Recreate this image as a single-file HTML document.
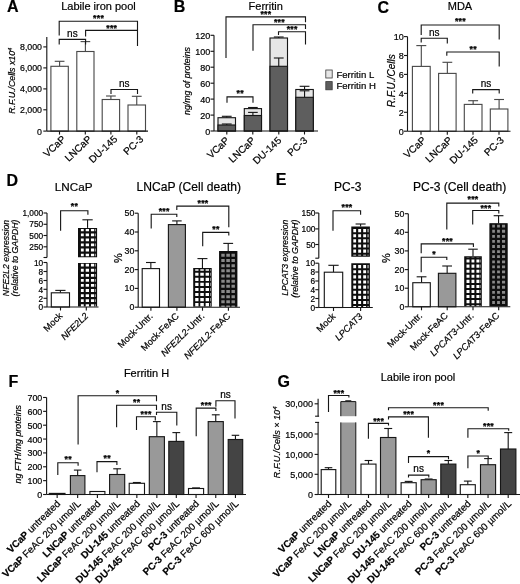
<!DOCTYPE html>
<html><head><meta charset="utf-8"><title>Figure</title>
<style>
html,body{margin:0;padding:0;background:#fff;}
svg{display:block;font-family:"Liberation Sans",sans-serif;}
text{stroke:#000;stroke-width:0.2px;}
text.st{stroke:#000;stroke-width:0.25px;font-weight:bold;letter-spacing:0.3px;}
</style></head><body>
<svg width="520" height="584" viewBox="0 0 520 584">
<rect width="520" height="584" fill="#fff"/>
<defs></defs>
<text x="7.00" y="12.00" font-size="16" text-anchor="start" font-weight="bold" font-style="normal" fill="#000">A</text>
<text x="98.50" y="9.70" font-size="11" text-anchor="middle" font-weight="normal" font-style="normal" fill="#000">Labile iron pool</text>
<path d="M46.80 37.00L46.80 131.10" stroke="#161616" stroke-width="1.12" fill="none"/>
<path d="M43.30 131.10L46.80 131.10" stroke="#161616" stroke-width="1.12" fill="none"/>
<text x="42.00" y="134.57" font-size="8.8" text-anchor="end" font-weight="normal" font-style="normal" fill="#000">0</text>
<path d="M43.30 109.80L46.80 109.80" stroke="#161616" stroke-width="1.12" fill="none"/>
<text x="42.00" y="113.27" font-size="8.8" text-anchor="end" font-weight="normal" font-style="normal" fill="#000">2,000</text>
<path d="M43.30 88.90L46.80 88.90" stroke="#161616" stroke-width="1.12" fill="none"/>
<text x="42.00" y="92.37" font-size="8.8" text-anchor="end" font-weight="normal" font-style="normal" fill="#000">4,000</text>
<path d="M43.30 67.90L46.80 67.90" stroke="#161616" stroke-width="1.12" fill="none"/>
<text x="42.00" y="71.37" font-size="8.8" text-anchor="end" font-weight="normal" font-style="normal" fill="#000">6,000</text>
<path d="M43.30 46.90L46.80 46.90" stroke="#161616" stroke-width="1.12" fill="none"/>
<text x="42.00" y="50.37" font-size="8.8" text-anchor="end" font-weight="normal" font-style="normal" fill="#000">8,000</text>
<path d="M59.60 61.30L59.60 66.30" stroke="#484848" stroke-width="1.12" fill="none"/>
<path d="M54.73 61.30L64.47 61.30" stroke="#484848" stroke-width="1.12" fill="none"/>
<rect x="50.90" y="66.30" width="17.40" height="64.80" fill="#fff" stroke="#484848" stroke-width="1.12"/>
<path d="M85.40 41.60L85.40 51.50" stroke="#484848" stroke-width="1.12" fill="none"/>
<path d="M80.58 41.60L90.22 41.60" stroke="#484848" stroke-width="1.12" fill="none"/>
<rect x="76.80" y="51.50" width="17.20" height="79.60" fill="#fff" stroke="#484848" stroke-width="1.12"/>
<path d="M110.90 96.00L110.90 99.50" stroke="#484848" stroke-width="1.12" fill="none"/>
<path d="M106.03 96.00L115.77 96.00" stroke="#484848" stroke-width="1.12" fill="none"/>
<rect x="102.20" y="99.50" width="17.40" height="31.60" fill="#fff" stroke="#484848" stroke-width="1.12"/>
<path d="M136.75 96.30L136.75 105.00" stroke="#484848" stroke-width="1.12" fill="none"/>
<path d="M131.85 96.30L141.65 96.30" stroke="#484848" stroke-width="1.12" fill="none"/>
<rect x="128.00" y="105.00" width="17.50" height="26.10" fill="#fff" stroke="#484848" stroke-width="1.12"/>
<path d="M59.20 35.60L59.20 21.20L137.50 21.20L137.50 46.00" stroke="#161616" stroke-width="1.12" fill="none"/>
<text x="98.55" y="20.55" font-size="8.7" text-anchor="middle" font-weight="normal" font-style="normal" fill="#000" class="st">***</text>
<path d="M59.20 44.60L59.20 39.40L85.60 39.40L85.60 44.60" stroke="#161616" stroke-width="1.12" fill="none"/>
<text x="72.40" y="36.60" font-size="10" text-anchor="middle" font-weight="normal" font-style="normal" fill="#000">ns</text>
<path d="M85.60 36.60L85.60 30.40L137.50 30.40" stroke="#161616" stroke-width="1.12" fill="none"/>
<text x="111.75" y="31.45" font-size="8.7" text-anchor="middle" font-weight="normal" font-style="normal" fill="#000" class="st">***</text>
<path d="M111.00 94.00L111.00 89.50L137.50 89.50L137.50 94.00" stroke="#161616" stroke-width="1.12" fill="none"/>
<text x="124.25" y="86.70" font-size="10" text-anchor="middle" font-weight="normal" font-style="normal" fill="#000">ns</text>
<text x="66.30" y="140.00" font-size="10" text-anchor="end" font-weight="normal" font-style="normal" fill="#000" transform="rotate(-43 66.30 140.00)">VCaP</text>
<text x="92.30" y="140.00" font-size="10" text-anchor="end" font-weight="normal" font-style="normal" fill="#000" transform="rotate(-43 92.30 140.00)">LNCaP</text>
<text x="118.00" y="140.00" font-size="10" text-anchor="end" font-weight="normal" font-style="normal" fill="#000" transform="rotate(-43 118.00 140.00)">DU-145</text>
<text x="144.00" y="140.00" font-size="10" text-anchor="end" font-weight="normal" font-style="normal" fill="#000" transform="rotate(-43 144.00 140.00)">PC-3</text>
<text x="14.70" y="80.70" font-size="8.8" text-anchor="middle" font-weight="normal" font-style="italic" fill="#000" transform="rotate(-90 14.70 80.70)">R.F.U./Cells x10<tspan font-size="6" dy="-3">4</tspan></text>
<text x="173.80" y="12.00" font-size="16" text-anchor="start" font-weight="bold" font-style="normal" fill="#000">B</text>
<text x="265.70" y="9.80" font-size="11" text-anchor="middle" font-weight="normal" font-style="normal" fill="#000">Ferritin</text>
<path d="M214.00 35.30L214.00 131.00" stroke="#161616" stroke-width="1.12" fill="none"/>
<path d="M210.50 131.00L214.00 131.00" stroke="#161616" stroke-width="1.12" fill="none"/>
<text x="210.20" y="134.54" font-size="9" text-anchor="end" font-weight="normal" font-style="normal" fill="#000">0</text>
<path d="M210.50 115.10L214.00 115.10" stroke="#161616" stroke-width="1.12" fill="none"/>
<text x="210.20" y="118.64" font-size="9" text-anchor="end" font-weight="normal" font-style="normal" fill="#000">20</text>
<path d="M210.50 99.10L214.00 99.10" stroke="#161616" stroke-width="1.12" fill="none"/>
<text x="210.20" y="102.64" font-size="9" text-anchor="end" font-weight="normal" font-style="normal" fill="#000">40</text>
<path d="M210.50 83.20L214.00 83.20" stroke="#161616" stroke-width="1.12" fill="none"/>
<text x="210.20" y="86.74" font-size="9" text-anchor="end" font-weight="normal" font-style="normal" fill="#000">60</text>
<path d="M210.50 67.20L214.00 67.20" stroke="#161616" stroke-width="1.12" fill="none"/>
<text x="210.20" y="70.74" font-size="9" text-anchor="end" font-weight="normal" font-style="normal" fill="#000">80</text>
<path d="M210.50 51.30L214.00 51.30" stroke="#161616" stroke-width="1.12" fill="none"/>
<text x="210.20" y="54.84" font-size="9" text-anchor="end" font-weight="normal" font-style="normal" fill="#000">100</text>
<path d="M210.50 35.30L214.00 35.30" stroke="#161616" stroke-width="1.12" fill="none"/>
<text x="210.20" y="38.84" font-size="9" text-anchor="end" font-weight="normal" font-style="normal" fill="#000">120</text>
<path d="M226.75 116.30L226.75 117.70" stroke="#161616" stroke-width="1.12" fill="none"/>
<path d="M221.85 116.30L231.65 116.30" stroke="#161616" stroke-width="1.12" fill="none"/>
<rect x="218.00" y="117.70" width="17.50" height="13.30" fill="#e6e6e6" stroke="#161616" stroke-width="1.12"/>
<rect x="218.00" y="125.00" width="17.50" height="6.00" fill="#5e5e5e" stroke="#161616" stroke-width="1.12"/>
<path d="M226.75 124.00L226.75 125.00" stroke="#161616" stroke-width="1.12" fill="none"/>
<path d="M221.85 124.00L231.65 124.00" stroke="#161616" stroke-width="1.12" fill="none"/>
<path d="M252.90 107.50L252.90 108.60" stroke="#161616" stroke-width="1.12" fill="none"/>
<path d="M248.08 107.50L257.72 107.50" stroke="#161616" stroke-width="1.12" fill="none"/>
<rect x="244.30" y="108.60" width="17.20" height="22.40" fill="#e6e6e6" stroke="#161616" stroke-width="1.12"/>
<rect x="244.30" y="115.50" width="17.20" height="15.50" fill="#5e5e5e" stroke="#161616" stroke-width="1.12"/>
<path d="M252.90 112.40L252.90 115.50" stroke="#161616" stroke-width="1.12" fill="none"/>
<path d="M248.08 112.40L257.72 112.40" stroke="#161616" stroke-width="1.12" fill="none"/>
<path d="M278.75 37.00L278.75 38.00" stroke="#161616" stroke-width="1.12" fill="none"/>
<path d="M273.85 37.00L283.65 37.00" stroke="#161616" stroke-width="1.12" fill="none"/>
<rect x="270.00" y="38.00" width="17.50" height="93.00" fill="#e6e6e6" stroke="#161616" stroke-width="1.12"/>
<rect x="270.00" y="66.30" width="17.50" height="64.70" fill="#5e5e5e" stroke="#161616" stroke-width="1.12"/>
<path d="M278.75 58.00L278.75 66.30" stroke="#161616" stroke-width="1.12" fill="none"/>
<path d="M273.85 58.00L283.65 58.00" stroke="#161616" stroke-width="1.12" fill="none"/>
<path d="M304.55 86.30L304.55 89.50" stroke="#161616" stroke-width="1.12" fill="none"/>
<path d="M299.65 86.30L309.45 86.30" stroke="#161616" stroke-width="1.12" fill="none"/>
<rect x="295.80" y="89.50" width="17.50" height="41.50" fill="#e6e6e6" stroke="#161616" stroke-width="1.12"/>
<rect x="295.80" y="97.30" width="17.50" height="33.70" fill="#5e5e5e" stroke="#161616" stroke-width="1.12"/>
<path d="M304.55 90.80L304.55 97.30" stroke="#161616" stroke-width="1.12" fill="none"/>
<path d="M299.65 90.80L309.45 90.80" stroke="#161616" stroke-width="1.12" fill="none"/>
<path d="M226.00 58.00L226.00 16.90L305.50 16.90L305.50 22.20" stroke="#161616" stroke-width="1.12" fill="none"/>
<text x="265.95" y="17.25" font-size="8.7" text-anchor="middle" font-weight="normal" font-style="normal" fill="#000" class="st">***</text>
<path d="M253.00 50.80L253.00 24.70L305.50 24.70L305.50 29.00" stroke="#161616" stroke-width="1.12" fill="none"/>
<text x="279.45" y="25.05" font-size="8.7" text-anchor="middle" font-weight="normal" font-style="normal" fill="#000" class="st">***</text>
<path d="M278.50 35.00L278.50 31.70L305.50 31.70L305.50 44.40" stroke="#161616" stroke-width="1.12" fill="none"/>
<text x="292.20" y="32.05" font-size="8.7" text-anchor="middle" font-weight="normal" font-style="normal" fill="#000" class="st">***</text>
<path d="M227.00 102.80L227.00 96.90L253.00 96.90L253.00 102.80" stroke="#161616" stroke-width="1.12" fill="none"/>
<text x="240.20" y="96.35" font-size="8.7" text-anchor="middle" font-weight="normal" font-style="normal" fill="#000" class="st">**</text>
<text x="230.00" y="141.30" font-size="10" text-anchor="end" font-weight="normal" font-style="normal" fill="#000" transform="rotate(-43 230.00 141.30)">VCaP</text>
<text x="256.00" y="141.30" font-size="10" text-anchor="end" font-weight="normal" font-style="normal" fill="#000" transform="rotate(-43 256.00 141.30)">LNCaP</text>
<text x="282.00" y="141.30" font-size="10" text-anchor="end" font-weight="normal" font-style="normal" fill="#000" transform="rotate(-43 282.00 141.30)">DU-145</text>
<text x="308.00" y="141.30" font-size="10" text-anchor="end" font-weight="normal" font-style="normal" fill="#000" transform="rotate(-43 308.00 141.30)">PC-3</text>
<text x="190.20" y="81.00" font-size="8.8" text-anchor="middle" font-weight="normal" font-style="italic" fill="#000" transform="rotate(-90 190.20 81.00)">ng/mg of proteins</text>
<rect x="325.8" y="70" width="6.4" height="8" fill="#e6e6e6" stroke="#3a3a3a" stroke-width="0.8"/>
<rect x="325.8" y="81.6" width="6.4" height="8.2" fill="#5e5e5e" stroke="#3a3a3a" stroke-width="0.8"/>
<text x="336.40" y="77.70" font-size="9.6" text-anchor="start" font-weight="normal" font-style="normal" fill="#000">Ferritin L</text>
<text x="336.40" y="89.10" font-size="9.6" text-anchor="start" font-weight="normal" font-style="normal" fill="#000">Ferritin H</text>
<text x="377.60" y="12.50" font-size="16" text-anchor="start" font-weight="bold" font-style="normal" fill="#000">C</text>
<text x="460.00" y="10.20" font-size="11" text-anchor="middle" font-weight="normal" font-style="normal" fill="#000">MDA</text>
<path d="M407.50 36.60L407.50 131.20" stroke="#161616" stroke-width="1.12" fill="none"/>
<path d="M404.00 131.20L407.50 131.20" stroke="#161616" stroke-width="1.12" fill="none"/>
<text x="403.70" y="134.74" font-size="9" text-anchor="end" font-weight="normal" font-style="normal" fill="#000">0</text>
<path d="M404.00 112.30L407.50 112.30" stroke="#161616" stroke-width="1.12" fill="none"/>
<text x="403.70" y="115.84" font-size="9" text-anchor="end" font-weight="normal" font-style="normal" fill="#000">2</text>
<path d="M404.00 93.40L407.50 93.40" stroke="#161616" stroke-width="1.12" fill="none"/>
<text x="403.70" y="96.94" font-size="9" text-anchor="end" font-weight="normal" font-style="normal" fill="#000">4</text>
<path d="M404.00 74.40L407.50 74.40" stroke="#161616" stroke-width="1.12" fill="none"/>
<text x="403.70" y="77.94" font-size="9" text-anchor="end" font-weight="normal" font-style="normal" fill="#000">6</text>
<path d="M404.00 55.50L407.50 55.50" stroke="#161616" stroke-width="1.12" fill="none"/>
<text x="403.70" y="59.04" font-size="9" text-anchor="end" font-weight="normal" font-style="normal" fill="#000">8</text>
<path d="M404.00 36.60L407.50 36.60" stroke="#161616" stroke-width="1.12" fill="none"/>
<text x="403.70" y="40.14" font-size="9" text-anchor="end" font-weight="normal" font-style="normal" fill="#000">10</text>
<path d="M421.30 45.60L421.30 66.40" stroke="#484848" stroke-width="1.12" fill="none"/>
<path d="M416.32 45.60L426.28 45.60" stroke="#484848" stroke-width="1.12" fill="none"/>
<rect x="412.40" y="66.40" width="17.80" height="64.80" fill="#fff" stroke="#484848" stroke-width="1.12"/>
<path d="M447.35 62.30L447.35 73.40" stroke="#484848" stroke-width="1.12" fill="none"/>
<path d="M442.45 62.30L452.25 62.30" stroke="#484848" stroke-width="1.12" fill="none"/>
<rect x="438.60" y="73.40" width="17.50" height="57.80" fill="#fff" stroke="#484848" stroke-width="1.12"/>
<path d="M473.15 100.70L473.15 104.40" stroke="#484848" stroke-width="1.12" fill="none"/>
<path d="M468.19 100.70L478.11 100.70" stroke="#484848" stroke-width="1.12" fill="none"/>
<rect x="464.30" y="104.40" width="17.70" height="26.80" fill="#fff" stroke="#484848" stroke-width="1.12"/>
<path d="M499.10 99.50L499.10 109.00" stroke="#484848" stroke-width="1.12" fill="none"/>
<path d="M494.17 99.50L504.03 99.50" stroke="#484848" stroke-width="1.12" fill="none"/>
<rect x="490.30" y="109.00" width="17.60" height="22.20" fill="#fff" stroke="#484848" stroke-width="1.12"/>
<path d="M421.20 34.90L421.20 25.00L499.20 25.00L499.20 39.50" stroke="#161616" stroke-width="1.12" fill="none"/>
<text x="460.40" y="24.25" font-size="8.7" text-anchor="middle" font-weight="normal" font-style="normal" fill="#000" class="st">***</text>
<path d="M421.20 42.50L421.20 38.20L447.30 38.20L447.30 43.50" stroke="#161616" stroke-width="1.12" fill="none"/>
<text x="434.25" y="35.80" font-size="10" text-anchor="middle" font-weight="normal" font-style="normal" fill="#000">ns</text>
<path d="M446.80 55.70L446.80 52.00L499.20 52.00L499.20 66.50" stroke="#161616" stroke-width="1.12" fill="none"/>
<text x="473.20" y="52.35" font-size="8.7" text-anchor="middle" font-weight="normal" font-style="normal" fill="#000" class="st">**</text>
<path d="M472.70 93.50L472.70 89.60L499.20 89.60L499.20 93.50" stroke="#161616" stroke-width="1.12" fill="none"/>
<text x="485.95" y="86.90" font-size="10" text-anchor="middle" font-weight="normal" font-style="normal" fill="#000">ns</text>
<text x="426.60" y="140.90" font-size="10" text-anchor="end" font-weight="normal" font-style="normal" fill="#000" transform="rotate(-43 426.60 140.90)">VCaP</text>
<text x="452.90" y="140.90" font-size="10" text-anchor="end" font-weight="normal" font-style="normal" fill="#000" transform="rotate(-43 452.90 140.90)">LNCaP</text>
<text x="478.60" y="140.90" font-size="10" text-anchor="end" font-weight="normal" font-style="normal" fill="#000" transform="rotate(-43 478.60 140.90)">DU-145</text>
<text x="504.60" y="140.90" font-size="10" text-anchor="end" font-weight="normal" font-style="normal" fill="#000" transform="rotate(-43 504.60 140.90)">PC-3</text>
<text x="395.20" y="80.70" font-size="10.1" text-anchor="middle" font-weight="normal" font-style="italic" fill="#000" transform="rotate(-90 395.20 80.70)">R.F.U./Cells</text>
<text x="6.60" y="185.60" font-size="16" text-anchor="start" font-weight="bold" font-style="normal" fill="#000">D</text>
<text x="73.60" y="191.20" font-size="11.7" text-anchor="middle" font-weight="normal" font-style="normal" fill="#000">LNCaP</text>
<path d="M47.00 213.00L47.00 257.50" stroke="#161616" stroke-width="1.12" fill="none"/>
<path d="M43.50 257.50L47.00 257.50" stroke="#161616" stroke-width="1.12" fill="none"/>
<path d="M43.50 213.00L47.00 213.00" stroke="#161616" stroke-width="1.12" fill="none"/>
<text x="43.20" y="216.00" font-size="8.3" text-anchor="end" font-weight="normal" font-style="normal" fill="#000">1,000</text>
<path d="M43.50 224.30L47.00 224.30" stroke="#161616" stroke-width="1.12" fill="none"/>
<text x="43.20" y="227.30" font-size="8.3" text-anchor="end" font-weight="normal" font-style="normal" fill="#000">750</text>
<path d="M43.50 235.50L47.00 235.50" stroke="#161616" stroke-width="1.12" fill="none"/>
<text x="43.20" y="238.50" font-size="8.3" text-anchor="end" font-weight="normal" font-style="normal" fill="#000">500</text>
<path d="M43.50 246.80L47.00 246.80" stroke="#161616" stroke-width="1.12" fill="none"/>
<text x="43.20" y="249.80" font-size="8.3" text-anchor="end" font-weight="normal" font-style="normal" fill="#000">250</text>
<path d="M47.00 262.50L47.00 307.00" stroke="#161616" stroke-width="1.12" fill="none"/>
<path d="M43.50 262.50L47.00 262.50" stroke="#161616" stroke-width="1.12" fill="none"/>
<text x="43.20" y="265.79" font-size="8.3" text-anchor="end" font-weight="normal" font-style="normal" fill="#000">10</text>
<path d="M43.50 271.50L47.00 271.50" stroke="#161616" stroke-width="1.12" fill="none"/>
<text x="43.20" y="274.79" font-size="8.3" text-anchor="end" font-weight="normal" font-style="normal" fill="#000">8</text>
<path d="M43.50 280.50L47.00 280.50" stroke="#161616" stroke-width="1.12" fill="none"/>
<text x="43.20" y="283.79" font-size="8.3" text-anchor="end" font-weight="normal" font-style="normal" fill="#000">6</text>
<path d="M43.50 289.30L47.00 289.30" stroke="#161616" stroke-width="1.12" fill="none"/>
<text x="43.20" y="292.59" font-size="8.3" text-anchor="end" font-weight="normal" font-style="normal" fill="#000">4</text>
<path d="M43.50 298.30L47.00 298.30" stroke="#161616" stroke-width="1.12" fill="none"/>
<text x="43.20" y="301.59" font-size="8.3" text-anchor="end" font-weight="normal" font-style="normal" fill="#000">2</text>
<path d="M43.50 307.00L47.00 307.00" stroke="#161616" stroke-width="1.12" fill="none"/>
<text x="43.20" y="310.29" font-size="8.3" text-anchor="end" font-weight="normal" font-style="normal" fill="#000">0</text>
<path d="M60.40 290.40L60.40 292.80" stroke="#161616" stroke-width="1.12" fill="none"/>
<path d="M55.30 290.40L65.50 290.40" stroke="#161616" stroke-width="1.12" fill="none"/>
<rect x="51.30" y="292.80" width="18.20" height="14.20" fill="#fff" stroke="#161616" stroke-width="1.12"/>
<path d="M87.55 219.80L87.55 228.40" stroke="#161616" stroke-width="1.12" fill="none"/>
<path d="M82.39 219.80L92.71 219.80" stroke="#161616" stroke-width="1.12" fill="none"/>
<rect x="78.00" y="227.90" width="19.10" height="29.40" fill="#fff"/>
<path d="M78.00 227.90H80.90V257.30H78.00ZM83.75 227.90H85.70V257.30H83.75ZM89.00 227.90H90.95V257.30H89.00ZM94.20 227.90H95.35V257.30H94.20ZM95.90 227.90H97.10V257.30H95.90ZM78.00 227.90H97.10V228.37H78.00ZM78.00 231.18H97.10V233.43H78.00ZM78.00 236.24H97.10V238.49H78.00ZM78.00 241.30H97.10V243.55H78.00ZM78.00 246.36H97.10V248.61H78.00ZM78.00 251.42H97.10V253.67H78.00ZM78.00 256.48H97.10V257.30H78.00ZM78.00 227.90H97.10V229.00H78.00ZM78.00 256.20H97.10V257.30H78.00Z" fill="#0e0e0e"/>
<rect x="78.00" y="262.90" width="19.10" height="43.54" fill="#fff"/>
<path d="M78.00 262.90H80.90V306.44H78.00ZM83.75 262.90H85.70V306.44H83.75ZM89.00 262.90H90.95V306.44H89.00ZM94.20 262.90H95.35V306.44H94.20ZM95.90 262.90H97.10V306.44H95.90ZM78.00 262.90H97.10V263.79H78.00ZM78.00 266.60H97.10V268.85H78.00ZM78.00 271.66H97.10V273.91H78.00ZM78.00 276.72H97.10V278.97H78.00ZM78.00 281.78H97.10V284.03H78.00ZM78.00 286.84H97.10V289.09H78.00ZM78.00 291.90H97.10V294.15H78.00ZM78.00 296.96H97.10V299.21H78.00ZM78.00 302.02H97.10V304.27H78.00Z" fill="#0e0e0e"/>
<path d="M60.60 230.80L60.60 210.70L87.90 210.70L87.90 214.70" stroke="#161616" stroke-width="1.12" fill="none"/>
<text x="74.45" y="209.35" font-size="8.7" text-anchor="middle" font-weight="normal" font-style="normal" fill="#000" class="st">**</text>
<text x="63.00" y="316.50" font-size="9.3" text-anchor="end" font-weight="normal" font-style="normal" fill="#000" transform="rotate(-45 63.00 316.50)">Mock</text>
<text x="88.80" y="316.50" font-size="9.3" text-anchor="end" font-weight="normal" font-style="italic" fill="#000" transform="rotate(-45 88.80 316.50)">NFE2L2</text>
<text x="8.80" y="258.00" font-size="8.7" text-anchor="middle" font-weight="normal" font-style="italic" fill="#000" transform="rotate(-90 8.80 258.00)">NFE2L2 expression</text>
<text x="18.00" y="258.00" font-size="8.7" text-anchor="middle" font-weight="normal" font-style="italic" fill="#000" transform="rotate(-90 18.00 258.00)">(relative to GAPDH)</text>
<text x="188.80" y="191.20" font-size="12.1" text-anchor="middle" font-weight="normal" font-style="normal" fill="#000">LNCaP (Cell death)</text>
<path d="M138.20 213.20L138.20 307.20" stroke="#161616" stroke-width="1.12" fill="none"/>
<path d="M134.70 307.20L138.20 307.20" stroke="#161616" stroke-width="1.12" fill="none"/>
<text x="134.40" y="310.17" font-size="8.8" text-anchor="end" font-weight="normal" font-style="normal" fill="#000">0</text>
<path d="M134.70 288.40L138.20 288.40" stroke="#161616" stroke-width="1.12" fill="none"/>
<text x="134.40" y="291.37" font-size="8.8" text-anchor="end" font-weight="normal" font-style="normal" fill="#000">10</text>
<path d="M134.70 269.60L138.20 269.60" stroke="#161616" stroke-width="1.12" fill="none"/>
<text x="134.40" y="272.57" font-size="8.8" text-anchor="end" font-weight="normal" font-style="normal" fill="#000">20</text>
<path d="M134.70 250.80L138.20 250.80" stroke="#161616" stroke-width="1.12" fill="none"/>
<text x="134.40" y="253.77" font-size="8.8" text-anchor="end" font-weight="normal" font-style="normal" fill="#000">30</text>
<path d="M134.70 232.00L138.20 232.00" stroke="#161616" stroke-width="1.12" fill="none"/>
<text x="134.40" y="234.97" font-size="8.8" text-anchor="end" font-weight="normal" font-style="normal" fill="#000">40</text>
<path d="M134.70 213.20L138.20 213.20" stroke="#161616" stroke-width="1.12" fill="none"/>
<text x="134.40" y="216.17" font-size="8.8" text-anchor="end" font-weight="normal" font-style="normal" fill="#000">50</text>
<path d="M150.85 262.50L150.85 268.60" stroke="#161616" stroke-width="1.12" fill="none"/>
<path d="M146.01 262.50L155.69 262.50" stroke="#161616" stroke-width="1.12" fill="none"/>
<rect x="142.20" y="268.60" width="17.30" height="38.60" fill="#fff" stroke="#161616" stroke-width="1.12"/>
<path d="M176.90 220.90L176.90 224.60" stroke="#161616" stroke-width="1.12" fill="none"/>
<path d="M172.14 220.90L181.66 220.90" stroke="#161616" stroke-width="1.12" fill="none"/>
<rect x="168.40" y="224.60" width="17.00" height="82.60" fill="#999" stroke="#161616" stroke-width="1.12"/>
<path d="M202.45 258.60L202.45 268.60" stroke="#161616" stroke-width="1.12" fill="none"/>
<path d="M197.45 258.60L207.44 258.60" stroke="#161616" stroke-width="1.12" fill="none"/>
<rect x="193.20" y="268.10" width="18.50" height="38.54" fill="#fff"/>
<path d="M193.20 268.10H195.20V306.64H193.20ZM198.50 268.10H200.30V306.64H198.50ZM203.80 268.10H205.60V306.64H203.80ZM209.00 268.10H210.20V306.64H209.00ZM210.70 268.10H211.70V306.64H210.70ZM193.20 270.81H211.70V272.71H193.20ZM193.20 275.87H211.70V277.77H193.20ZM193.20 280.93H211.70V282.83H193.20ZM193.20 285.99H211.70V287.89H193.20ZM193.20 291.05H211.70V292.95H193.20ZM193.20 296.11H211.70V298.01H193.20ZM193.20 301.17H211.70V303.07H193.20ZM193.20 306.23H211.70V306.64H193.20ZM193.20 268.10H211.70V269.20H193.20Z" fill="#0e0e0e"/>
<path d="M228.20 243.40L228.20 251.60" stroke="#161616" stroke-width="1.12" fill="none"/>
<path d="M223.29 243.40L233.11 243.40" stroke="#161616" stroke-width="1.12" fill="none"/>
<rect x="219.10" y="251.10" width="18.20" height="55.54" fill="#8a8a8a"/>
<path d="M219.10 251.10H221.30V306.64H219.10ZM224.70 251.10H226.30V306.64H224.70ZM229.90 251.10H231.50V306.64H229.90ZM234.90 251.10H237.30V306.64H234.90ZM219.10 251.63H237.30V253.83H219.10ZM219.10 256.80H237.30V259.00H219.10ZM219.10 261.97H237.30V264.17H219.10ZM219.10 267.14H237.30V269.34H219.10ZM219.10 272.31H237.30V274.51H219.10ZM219.10 277.48H237.30V279.68H219.10ZM219.10 282.65H237.30V284.85H219.10ZM219.10 287.82H237.30V290.02H219.10ZM219.10 292.99H237.30V295.19H219.10ZM219.10 298.16H237.30V300.36H219.10ZM219.10 303.33H237.30V305.53H219.10ZM219.10 251.10H237.30V252.20H219.10Z" fill="#0e0e0e"/>
<path d="M151.20 228.50L151.20 214.20L176.80 214.20L176.80 216.90" stroke="#161616" stroke-width="1.12" fill="none"/>
<text x="164.20" y="213.95" font-size="8.7" text-anchor="middle" font-weight="normal" font-style="normal" fill="#000" class="st">***</text>
<path d="M176.80 210.00L176.80 206.10L228.80 206.10L228.80 227.30" stroke="#161616" stroke-width="1.12" fill="none"/>
<text x="203.00" y="206.35" font-size="8.7" text-anchor="middle" font-weight="normal" font-style="normal" fill="#000" class="st">***</text>
<path d="M202.70 246.20L202.70 232.40L228.80 232.40L228.80 235.40" stroke="#161616" stroke-width="1.12" fill="none"/>
<text x="215.95" y="232.45" font-size="8.7" text-anchor="middle" font-weight="normal" font-style="normal" fill="#000" class="st">**</text>
<text x="121.50" y="258.00" font-size="11" text-anchor="middle" font-weight="normal" font-style="normal" fill="#000" transform="rotate(-90 121.50 258.00)">%</text>
<text x="153.40" y="316.70" font-size="9.3" text-anchor="end" font-weight="normal" font-style="normal" fill="#000" transform="rotate(-45 153.40 316.70)">Mock-Untr.</text>
<text x="179.40" y="316.70" font-size="9.3" text-anchor="end" font-weight="normal" font-style="normal" fill="#000" transform="rotate(-45 179.40 316.70)">Mock-FeAC</text>
<text x="205.00" y="316.70" font-size="9.3" text-anchor="end" font-weight="normal" font-style="normal" fill="#000" transform="rotate(-45 205.00 316.70)"><tspan font-style="italic">NFE2L2</tspan>-Untr.</text>
<text x="230.90" y="316.70" font-size="9.3" text-anchor="end" font-weight="normal" font-style="normal" fill="#000" transform="rotate(-45 230.90 316.70)"><tspan font-style="italic">NFE2L2</tspan>-FeAC</text>
<text x="275.80" y="185.10" font-size="16" text-anchor="start" font-weight="bold" font-style="normal" fill="#000">E</text>
<text x="347.70" y="191.20" font-size="12" text-anchor="middle" font-weight="normal" font-style="normal" fill="#000">PC-3</text>
<path d="M318.80 213.00L318.80 258.20" stroke="#161616" stroke-width="1.12" fill="none"/>
<path d="M315.30 258.20L318.80 258.20" stroke="#161616" stroke-width="1.12" fill="none"/>
<path d="M315.30 213.00L318.80 213.00" stroke="#161616" stroke-width="1.12" fill="none"/>
<text x="315.50" y="216.00" font-size="8.4" text-anchor="end" font-weight="normal" font-style="normal" fill="#000">150</text>
<path d="M315.30 228.90L318.80 228.90" stroke="#161616" stroke-width="1.12" fill="none"/>
<text x="315.50" y="231.90" font-size="8.4" text-anchor="end" font-weight="normal" font-style="normal" fill="#000">100</text>
<path d="M315.30 244.50L318.80 244.50" stroke="#161616" stroke-width="1.12" fill="none"/>
<text x="315.50" y="247.50" font-size="8.4" text-anchor="end" font-weight="normal" font-style="normal" fill="#000">50</text>
<path d="M318.80 263.20L318.80 307.50" stroke="#161616" stroke-width="1.12" fill="none"/>
<path d="M315.30 263.20L318.80 263.20" stroke="#161616" stroke-width="1.12" fill="none"/>
<text x="315.00" y="266.49" font-size="8.3" text-anchor="end" font-weight="normal" font-style="normal" fill="#000">10</text>
<path d="M315.30 272.00L318.80 272.00" stroke="#161616" stroke-width="1.12" fill="none"/>
<text x="315.00" y="275.29" font-size="8.3" text-anchor="end" font-weight="normal" font-style="normal" fill="#000">8</text>
<path d="M315.30 281.00L318.80 281.00" stroke="#161616" stroke-width="1.12" fill="none"/>
<text x="315.00" y="284.29" font-size="8.3" text-anchor="end" font-weight="normal" font-style="normal" fill="#000">6</text>
<path d="M315.30 289.70L318.80 289.70" stroke="#161616" stroke-width="1.12" fill="none"/>
<text x="315.00" y="292.99" font-size="8.3" text-anchor="end" font-weight="normal" font-style="normal" fill="#000">4</text>
<path d="M315.30 298.50L318.80 298.50" stroke="#161616" stroke-width="1.12" fill="none"/>
<text x="315.00" y="301.79" font-size="8.3" text-anchor="end" font-weight="normal" font-style="normal" fill="#000">2</text>
<path d="M315.30 307.50L318.80 307.50" stroke="#161616" stroke-width="1.12" fill="none"/>
<text x="315.00" y="310.79" font-size="8.3" text-anchor="end" font-weight="normal" font-style="normal" fill="#000">0</text>
<path d="M333.50 265.30L333.50 272.20" stroke="#161616" stroke-width="1.12" fill="none"/>
<path d="M328.35 265.30L338.65 265.30" stroke="#161616" stroke-width="1.12" fill="none"/>
<rect x="324.30" y="272.20" width="18.40" height="35.30" fill="#fff" stroke="#161616" stroke-width="1.12"/>
<path d="M360.60 224.00L360.60 227.00" stroke="#161616" stroke-width="1.12" fill="none"/>
<path d="M355.58 224.00L365.62 224.00" stroke="#161616" stroke-width="1.12" fill="none"/>
<rect x="351.30" y="226.50" width="18.60" height="30.20" fill="#fff"/>
<path d="M351.30 226.50H353.30V256.70H351.30ZM356.10 226.50H358.20V256.70H356.10ZM361.10 226.50H363.20V256.70H361.10ZM366.10 226.50H367.60V256.70H366.10ZM368.50 226.50H369.90V256.70H368.50ZM351.30 227.01H369.90V229.01H351.30ZM351.30 232.15H369.90V234.15H351.30ZM351.30 237.29H369.90V239.29H351.30ZM351.30 242.43H369.90V244.43H351.30ZM351.30 247.57H369.90V249.57H351.30ZM351.30 252.71H369.90V254.71H351.30ZM351.30 226.50H369.90V227.60H351.30ZM351.30 255.60H369.90V256.70H351.30Z" fill="#0e0e0e"/>
<rect x="351.30" y="263.20" width="18.60" height="43.74" fill="#fff"/>
<path d="M351.30 263.20H353.30V306.94H351.30ZM356.10 263.20H358.20V306.94H356.10ZM361.10 263.20H363.20V306.94H361.10ZM366.10 263.20H367.60V306.94H366.10ZM368.50 263.20H369.90V306.94H368.50ZM351.30 263.20H369.90V264.99H351.30ZM351.30 268.13H369.90V270.13H351.30ZM351.30 273.27H369.90V275.27H351.30ZM351.30 278.41H369.90V280.41H351.30ZM351.30 283.55H369.90V285.55H351.30ZM351.30 288.69H369.90V290.69H351.30ZM351.30 293.83H369.90V295.83H351.30ZM351.30 298.97H369.90V300.97H351.30ZM351.30 304.11H369.90V306.11H351.30Z" fill="#0e0e0e"/>
<path d="M333.00 230.80L333.00 210.70L360.60 210.70L360.60 214.70" stroke="#161616" stroke-width="1.12" fill="none"/>
<text x="347.00" y="209.95" font-size="8.7" text-anchor="middle" font-weight="normal" font-style="normal" fill="#000" class="st">***</text>
<text x="336.00" y="317.00" font-size="9.3" text-anchor="end" font-weight="normal" font-style="normal" fill="#000" transform="rotate(-45 336.00 317.00)">Mock</text>
<text x="363.10" y="317.00" font-size="9.3" text-anchor="end" font-weight="normal" font-style="italic" fill="#000" transform="rotate(-45 363.10 317.00)">LPCAT3</text>
<text x="287.80" y="257.80" font-size="8.65" text-anchor="middle" font-weight="normal" font-style="italic" fill="#000" transform="rotate(-90 287.80 257.80)">LPCAT3 expression</text>
<text x="297.60" y="258.60" font-size="8.85" text-anchor="middle" font-weight="normal" font-style="italic" fill="#000" transform="rotate(-90 297.60 258.60)">(relative to GAPDH)</text>
<text x="459.60" y="191.20" font-size="12.1" text-anchor="middle" font-weight="normal" font-style="normal" fill="#000">PC-3 (Cell death)</text>
<path d="M408.30 213.70L408.30 306.80" stroke="#161616" stroke-width="1.12" fill="none"/>
<path d="M404.80 306.80L408.30 306.80" stroke="#161616" stroke-width="1.12" fill="none"/>
<text x="404.40" y="309.77" font-size="8.8" text-anchor="end" font-weight="normal" font-style="normal" fill="#000">0</text>
<path d="M404.80 288.20L408.30 288.20" stroke="#161616" stroke-width="1.12" fill="none"/>
<text x="404.40" y="291.17" font-size="8.8" text-anchor="end" font-weight="normal" font-style="normal" fill="#000">10</text>
<path d="M404.80 269.60L408.30 269.60" stroke="#161616" stroke-width="1.12" fill="none"/>
<text x="404.40" y="272.57" font-size="8.8" text-anchor="end" font-weight="normal" font-style="normal" fill="#000">20</text>
<path d="M404.80 250.90L408.30 250.90" stroke="#161616" stroke-width="1.12" fill="none"/>
<text x="404.40" y="253.87" font-size="8.8" text-anchor="end" font-weight="normal" font-style="normal" fill="#000">30</text>
<path d="M404.80 232.30L408.30 232.30" stroke="#161616" stroke-width="1.12" fill="none"/>
<text x="404.40" y="235.27" font-size="8.8" text-anchor="end" font-weight="normal" font-style="normal" fill="#000">40</text>
<path d="M404.80 213.70L408.30 213.70" stroke="#161616" stroke-width="1.12" fill="none"/>
<text x="404.40" y="216.67" font-size="8.8" text-anchor="end" font-weight="normal" font-style="normal" fill="#000">50</text>
<path d="M421.55 276.80L421.55 282.70" stroke="#161616" stroke-width="1.12" fill="none"/>
<path d="M416.65 276.80L426.45 276.80" stroke="#161616" stroke-width="1.12" fill="none"/>
<rect x="412.80" y="282.70" width="17.50" height="24.10" fill="#fff" stroke="#161616" stroke-width="1.12"/>
<path d="M447.15 266.00L447.15 273.30" stroke="#161616" stroke-width="1.12" fill="none"/>
<path d="M442.25 266.00L452.05 266.00" stroke="#161616" stroke-width="1.12" fill="none"/>
<rect x="438.40" y="273.30" width="17.50" height="33.50" fill="#999" stroke="#161616" stroke-width="1.12"/>
<path d="M473.00 249.20L473.00 256.70" stroke="#161616" stroke-width="1.12" fill="none"/>
<path d="M468.25 249.20L477.75 249.20" stroke="#161616" stroke-width="1.12" fill="none"/>
<rect x="464.20" y="256.20" width="17.60" height="50.04" fill="#fff"/>
<path d="M464.20 256.20H466.50V306.24H464.20ZM469.50 256.20H471.50V306.24H469.50ZM474.40 256.20H476.40V306.24H474.40ZM479.40 256.20H480.50V306.24H479.40ZM480.90 256.20H481.80V306.24H480.90ZM464.20 257.53H481.80V259.53H464.20ZM464.20 262.60H481.80V264.60H464.20ZM464.20 267.67H481.80V269.67H464.20ZM464.20 272.74H481.80V274.74H464.20ZM464.20 277.81H481.80V279.81H464.20ZM464.20 282.88H481.80V284.88H464.20ZM464.20 287.95H481.80V289.95H464.20ZM464.20 293.02H481.80V295.02H464.20ZM464.20 298.09H481.80V300.09H464.20ZM464.20 303.16H481.80V305.16H464.20ZM464.20 256.20H481.80V257.30H464.20Z" fill="#0e0e0e"/>
<path d="M498.55 215.70L498.55 223.80" stroke="#161616" stroke-width="1.12" fill="none"/>
<path d="M493.66 215.70L503.44 215.70" stroke="#161616" stroke-width="1.12" fill="none"/>
<rect x="489.50" y="223.30" width="18.10" height="82.94" fill="#8a8a8a"/>
<path d="M489.50 223.30H492.20V306.24H489.50ZM494.90 223.30H497.10V306.24H494.90ZM499.90 223.30H502.00V306.24H499.90ZM505.10 223.30H507.60V306.24H505.10ZM489.50 223.30H507.60V224.76H489.50ZM489.50 227.55H507.60V229.85H489.50ZM489.50 232.64H507.60V234.94H489.50ZM489.50 237.73H507.60V240.03H489.50ZM489.50 242.82H507.60V245.12H489.50ZM489.50 247.91H507.60V250.21H489.50ZM489.50 253.00H507.60V255.30H489.50ZM489.50 258.09H507.60V260.39H489.50ZM489.50 263.18H507.60V265.48H489.50ZM489.50 268.27H507.60V270.57H489.50ZM489.50 273.36H507.60V275.66H489.50ZM489.50 278.45H507.60V280.75H489.50ZM489.50 283.54H507.60V285.84H489.50ZM489.50 288.63H507.60V290.93H489.50ZM489.50 293.72H507.60V296.02H489.50ZM489.50 298.81H507.60V301.11H489.50ZM489.50 303.90H507.60V306.20H489.50ZM489.50 223.30H507.60V224.40H489.50Z" fill="#0e0e0e"/>
<path d="M446.80 229.60L446.80 203.10L498.80 203.10L498.80 206.50" stroke="#161616" stroke-width="1.12" fill="none"/>
<text x="473.00" y="202.45" font-size="8.7" text-anchor="middle" font-weight="normal" font-style="normal" fill="#000" class="st">***</text>
<path d="M472.70 224.50L472.70 210.50L498.80 210.50L498.80 213.50" stroke="#161616" stroke-width="1.12" fill="none"/>
<text x="485.95" y="210.95" font-size="8.7" text-anchor="middle" font-weight="normal" font-style="normal" fill="#000" class="st">***</text>
<path d="M421.20 253.20L421.20 243.90L473.40 243.90L473.40 246.90" stroke="#161616" stroke-width="1.12" fill="none"/>
<text x="447.50" y="244.35" font-size="8.7" text-anchor="middle" font-weight="normal" font-style="normal" fill="#000" class="st">***</text>
<path d="M421.20 272.30L421.20 257.30L446.80 257.30L446.80 260.00" stroke="#161616" stroke-width="1.12" fill="none"/>
<text x="434.20" y="256.65" font-size="8.7" text-anchor="middle" font-weight="normal" font-style="normal" fill="#000" class="st">*</text>
<text x="390.20" y="258.00" font-size="11" text-anchor="middle" font-weight="normal" font-style="normal" fill="#000" transform="rotate(-90 390.20 258.00)">%</text>
<text x="422.80" y="316.30" font-size="9.3" text-anchor="end" font-weight="normal" font-style="normal" fill="#000" transform="rotate(-45 422.80 316.30)">Mock-Untr.</text>
<text x="448.50" y="316.30" font-size="9.3" text-anchor="end" font-weight="normal" font-style="normal" fill="#000" transform="rotate(-45 448.50 316.30)">Mock-FeAC</text>
<text x="474.30" y="316.30" font-size="9.3" text-anchor="end" font-weight="normal" font-style="normal" fill="#000" transform="rotate(-45 474.30 316.30)"><tspan font-style="italic">LPCAT3</tspan>-Untr.</text>
<text x="500.00" y="316.30" font-size="9.3" text-anchor="end" font-weight="normal" font-style="normal" fill="#000" transform="rotate(-45 500.00 316.30)"><tspan font-style="italic">LPCAT3</tspan>-FeAC</text>
<text x="8.40" y="387.20" font-size="16" text-anchor="start" font-weight="bold" font-style="normal" fill="#000">F</text>
<text x="146.50" y="377.00" font-size="11" text-anchor="middle" font-weight="normal" font-style="normal" fill="#000">Ferritin H</text>
<path d="M46.60 397.50L46.60 494.50" stroke="#161616" stroke-width="1.12" fill="none"/>
<path d="M43.10 494.50L46.60 494.50" stroke="#161616" stroke-width="1.12" fill="none"/>
<text x="42.30" y="498.00" font-size="8.9" text-anchor="end" font-weight="normal" font-style="normal" fill="#000">0</text>
<path d="M43.10 480.64L46.60 480.64" stroke="#161616" stroke-width="1.12" fill="none"/>
<text x="42.30" y="484.14" font-size="8.9" text-anchor="end" font-weight="normal" font-style="normal" fill="#000">100</text>
<path d="M43.10 466.78L46.60 466.78" stroke="#161616" stroke-width="1.12" fill="none"/>
<text x="42.30" y="470.28" font-size="8.9" text-anchor="end" font-weight="normal" font-style="normal" fill="#000">200</text>
<path d="M43.10 452.92L46.60 452.92" stroke="#161616" stroke-width="1.12" fill="none"/>
<text x="42.30" y="456.42" font-size="8.9" text-anchor="end" font-weight="normal" font-style="normal" fill="#000">300</text>
<path d="M43.10 439.06L46.60 439.06" stroke="#161616" stroke-width="1.12" fill="none"/>
<text x="42.30" y="442.56" font-size="8.9" text-anchor="end" font-weight="normal" font-style="normal" fill="#000">400</text>
<path d="M43.10 425.20L46.60 425.20" stroke="#161616" stroke-width="1.12" fill="none"/>
<text x="42.30" y="428.70" font-size="8.9" text-anchor="end" font-weight="normal" font-style="normal" fill="#000">500</text>
<path d="M43.10 411.34L46.60 411.34" stroke="#161616" stroke-width="1.12" fill="none"/>
<text x="42.30" y="414.84" font-size="8.9" text-anchor="end" font-weight="normal" font-style="normal" fill="#000">600</text>
<path d="M43.10 397.48L46.60 397.48" stroke="#161616" stroke-width="1.12" fill="none"/>
<text x="42.30" y="400.98" font-size="8.9" text-anchor="end" font-weight="normal" font-style="normal" fill="#000">700</text>
<rect x="49.30" y="493.40" width="15.70" height="1.10" fill="#fff" stroke="#161616" stroke-width="1.12"/>
<path d="M77.65 470.10L77.65 475.60" stroke="#161616" stroke-width="1.12" fill="none"/>
<path d="M73.88 470.10L81.42 470.10" stroke="#161616" stroke-width="1.12" fill="none"/>
<rect x="70.40" y="475.60" width="14.50" height="18.90" fill="#999" stroke="#161616" stroke-width="1.12"/>
<rect x="89.90" y="491.50" width="15.00" height="3.00" fill="#fff" stroke="#161616" stroke-width="1.12"/>
<path d="M117.15 468.80L117.15 474.50" stroke="#161616" stroke-width="1.12" fill="none"/>
<path d="M113.22 468.80L121.08 468.80" stroke="#161616" stroke-width="1.12" fill="none"/>
<rect x="109.60" y="474.50" width="15.10" height="20.00" fill="#999" stroke="#161616" stroke-width="1.12"/>
<path d="M136.85 482.50L136.85 483.30" stroke="#161616" stroke-width="1.12" fill="none"/>
<path d="M132.87 482.50L140.83 482.50" stroke="#161616" stroke-width="1.12" fill="none"/>
<rect x="129.20" y="483.30" width="15.30" height="11.20" fill="#fff" stroke="#161616" stroke-width="1.12"/>
<path d="M156.85 421.60L156.85 436.70" stroke="#161616" stroke-width="1.12" fill="none"/>
<path d="M152.92 421.60L160.78 421.60" stroke="#161616" stroke-width="1.12" fill="none"/>
<rect x="149.30" y="436.70" width="15.10" height="57.80" fill="#999" stroke="#161616" stroke-width="1.12"/>
<path d="M176.30 432.60L176.30 441.40" stroke="#161616" stroke-width="1.12" fill="none"/>
<path d="M172.40 432.60L180.20 432.60" stroke="#161616" stroke-width="1.12" fill="none"/>
<rect x="168.80" y="441.40" width="15.00" height="53.10" fill="#444" stroke="#161616" stroke-width="1.12"/>
<path d="M196.05 487.90L196.05 488.50" stroke="#161616" stroke-width="1.12" fill="none"/>
<path d="M192.12 487.90L199.98 487.90" stroke="#161616" stroke-width="1.12" fill="none"/>
<rect x="188.50" y="488.50" width="15.10" height="6.00" fill="#fff" stroke="#161616" stroke-width="1.12"/>
<path d="M215.75 414.80L215.75 421.60" stroke="#161616" stroke-width="1.12" fill="none"/>
<path d="M211.82 414.80L219.68 414.80" stroke="#161616" stroke-width="1.12" fill="none"/>
<rect x="208.20" y="421.60" width="15.10" height="72.90" fill="#999" stroke="#161616" stroke-width="1.12"/>
<path d="M235.45 435.30L235.45 439.50" stroke="#161616" stroke-width="1.12" fill="none"/>
<path d="M231.68 435.30L239.22 435.30" stroke="#161616" stroke-width="1.12" fill="none"/>
<rect x="228.20" y="439.50" width="14.50" height="55.00" fill="#444" stroke="#161616" stroke-width="1.12"/>
<path d="M57.80 475.00L57.80 462.80L78.10 462.80L78.10 465.80" stroke="#161616" stroke-width="1.12" fill="none"/>
<text x="68.15" y="462.45" font-size="8.7" text-anchor="middle" font-weight="normal" font-style="normal" fill="#000" class="st">**</text>
<path d="M97.00 472.20L97.00 461.60L116.90 461.60L116.90 465.00" stroke="#161616" stroke-width="1.12" fill="none"/>
<text x="107.15" y="461.25" font-size="8.7" text-anchor="middle" font-weight="normal" font-style="normal" fill="#000" class="st">**</text>
<path d="M78.10 444.50L78.10 395.80L156.50 395.80L156.50 401.20" stroke="#161616" stroke-width="1.12" fill="none"/>
<text x="117.50" y="396.15" font-size="8.7" text-anchor="middle" font-weight="normal" font-style="normal" fill="#000" class="st">*</text>
<path d="M116.60 427.20L116.60 405.30L156.50 405.30L156.50 409.90" stroke="#161616" stroke-width="1.12" fill="none"/>
<text x="136.75" y="404.75" font-size="8.7" text-anchor="middle" font-weight="normal" font-style="normal" fill="#000" class="st">**</text>
<path d="M136.50 430.00L136.50 416.80L155.30 416.80L155.30 420.50" stroke="#161616" stroke-width="1.12" fill="none"/>
<text x="146.10" y="416.95" font-size="8.7" text-anchor="middle" font-weight="normal" font-style="normal" fill="#000" class="st">***</text>
<path d="M156.50 415.00L156.50 412.20L176.80 412.20L176.80 425.40" stroke="#161616" stroke-width="1.12" fill="none"/>
<text x="166.65" y="409.70" font-size="10" text-anchor="middle" font-weight="normal" font-style="normal" fill="#000">ns</text>
<path d="M196.20 436.20L196.20 408.10L215.90 408.10L215.90 411.00" stroke="#161616" stroke-width="1.12" fill="none"/>
<text x="206.25" y="408.45" font-size="8.7" text-anchor="middle" font-weight="normal" font-style="normal" fill="#000" class="st">***</text>
<path d="M215.90 406.70L215.90 400.70L235.00 400.70L235.00 418.50" stroke="#161616" stroke-width="1.12" fill="none"/>
<text x="225.45" y="398.20" font-size="10" text-anchor="middle" font-weight="normal" font-style="normal" fill="#000">ns</text>
<text x="21.20" y="444.20" font-size="8.9" text-anchor="middle" font-weight="normal" font-style="italic" fill="#000" transform="rotate(-90 21.20 444.20)">ng FTH/mg proteins</text>
<text x="60.85" y="504.30" font-size="9.85" text-anchor="end" font-weight="normal" font-style="normal" fill="#000" transform="rotate(-44.5 60.85 504.30)"><tspan font-weight="bold">VCaP</tspan> untreated</text>
<text x="81.35" y="504.30" font-size="9.85" text-anchor="end" font-weight="normal" font-style="normal" fill="#000" transform="rotate(-44.5 81.35 504.30)"><tspan font-weight="bold">VCaP</tspan> FeAC 200 µmol/L</text>
<text x="101.10" y="504.30" font-size="9.85" text-anchor="end" font-weight="normal" font-style="normal" fill="#000" transform="rotate(-44.5 101.10 504.30)"><tspan font-weight="bold">LNCaP</tspan> untreated</text>
<text x="120.85" y="504.30" font-size="9.85" text-anchor="end" font-weight="normal" font-style="normal" fill="#000" transform="rotate(-44.5 120.85 504.30)"><tspan font-weight="bold">LNCaP</tspan> FeAC 200 µmol/L</text>
<text x="140.55" y="504.30" font-size="9.85" text-anchor="end" font-weight="normal" font-style="normal" fill="#000" transform="rotate(-44.5 140.55 504.30)"><tspan font-weight="bold">DU-145</tspan> untreated</text>
<text x="160.55" y="504.30" font-size="9.85" text-anchor="end" font-weight="normal" font-style="normal" fill="#000" transform="rotate(-44.5 160.55 504.30)"><tspan font-weight="bold">DU-145</tspan> FeAC 200 µmol/L</text>
<text x="180.00" y="504.30" font-size="9.85" text-anchor="end" font-weight="normal" font-style="normal" fill="#000" transform="rotate(-44.5 180.00 504.30)"><tspan font-weight="bold">DU-145</tspan> FeAC 600 µmol/L</text>
<text x="199.75" y="504.30" font-size="9.85" text-anchor="end" font-weight="normal" font-style="normal" fill="#000" transform="rotate(-44.5 199.75 504.30)"><tspan font-weight="bold">PC-3</tspan> untreated</text>
<text x="219.45" y="504.30" font-size="9.85" text-anchor="end" font-weight="normal" font-style="normal" fill="#000" transform="rotate(-44.5 219.45 504.30)"><tspan font-weight="bold">PC-3</tspan> FeAC 200 µmol/L</text>
<text x="239.15" y="504.30" font-size="9.85" text-anchor="end" font-weight="normal" font-style="normal" fill="#000" transform="rotate(-44.5 239.15 504.30)"><tspan font-weight="bold">PC-3</tspan> FeAC 600 µmol/L</text>
<text x="277.40" y="387.00" font-size="16" text-anchor="start" font-weight="bold" font-style="normal" fill="#000">G</text>
<text x="418.00" y="381.00" font-size="11" text-anchor="middle" font-weight="normal" font-style="normal" fill="#000">Labile iron pool</text>
<path d="M318.10 398.80L318.10 416.20" stroke="#161616" stroke-width="1.12" fill="none"/>
<path d="M315.10 416.20L319.10 416.20" stroke="#161616" stroke-width="1.12" fill="none"/>
<path d="M314.60 403.80L318.10 403.80" stroke="#161616" stroke-width="1.12" fill="none"/>
<text x="312.90" y="407.20" font-size="9" text-anchor="end" font-weight="normal" font-style="normal" fill="#000">30,000</text>
<path d="M315.10 422.40L319.10 422.40" stroke="#161616" stroke-width="1.12" fill="none"/>
<path d="M318.10 422.40L318.10 494.50" stroke="#161616" stroke-width="1.12" fill="none"/>
<path d="M314.60 434.00L318.10 434.00" stroke="#161616" stroke-width="1.12" fill="none"/>
<text x="312.90" y="437.54" font-size="9" text-anchor="end" font-weight="normal" font-style="normal" fill="#000">15,000</text>
<path d="M314.60 454.40L318.10 454.40" stroke="#161616" stroke-width="1.12" fill="none"/>
<text x="312.90" y="457.94" font-size="9" text-anchor="end" font-weight="normal" font-style="normal" fill="#000">10,000</text>
<path d="M314.60 474.30L318.10 474.30" stroke="#161616" stroke-width="1.12" fill="none"/>
<text x="312.90" y="477.84" font-size="9" text-anchor="end" font-weight="normal" font-style="normal" fill="#000">5,000</text>
<path d="M314.60 494.50L318.10 494.50" stroke="#161616" stroke-width="1.12" fill="none"/>
<text x="312.90" y="498.04" font-size="9" text-anchor="end" font-weight="normal" font-style="normal" fill="#000">0</text>
<path d="M328.50 467.70L328.50 469.60" stroke="#161616" stroke-width="1.12" fill="none"/>
<path d="M324.70 467.70L332.30 467.70" stroke="#161616" stroke-width="1.12" fill="none"/>
<rect x="321.20" y="469.60" width="14.60" height="24.90" fill="#fff" stroke="#161616" stroke-width="1.12"/>
<path d="M345.30 400.80L351.30 400.80" stroke="#161616" stroke-width="1.12" fill="none"/>
<path d="M340.8 416.2L340.8 401.6L355.8 401.6L355.8 416.2" fill="#999" stroke="#161616" stroke-width="1"/>
<path d="M340.8 422.4L340.8 494.5L355.8 494.5L355.8 422.4" fill="#999" stroke="#161616" stroke-width="1"/>
<path d="M368.50 460.50L368.50 464.10" stroke="#161616" stroke-width="1.12" fill="none"/>
<path d="M364.60 460.50L372.40 460.50" stroke="#161616" stroke-width="1.12" fill="none"/>
<rect x="361.00" y="464.10" width="15.00" height="30.40" fill="#fff" stroke="#161616" stroke-width="1.12"/>
<path d="M388.20 428.50L388.20 437.50" stroke="#161616" stroke-width="1.12" fill="none"/>
<path d="M384.20 428.50L392.20 428.50" stroke="#161616" stroke-width="1.12" fill="none"/>
<rect x="380.50" y="437.50" width="15.40" height="57.00" fill="#999" stroke="#161616" stroke-width="1.12"/>
<path d="M408.65 481.40L408.65 482.70" stroke="#161616" stroke-width="1.12" fill="none"/>
<path d="M404.72 481.40L412.58 481.40" stroke="#161616" stroke-width="1.12" fill="none"/>
<rect x="401.10" y="482.70" width="15.10" height="11.80" fill="#fff" stroke="#161616" stroke-width="1.12"/>
<path d="M428.65 479.00L428.65 479.70" stroke="#161616" stroke-width="1.12" fill="none"/>
<path d="M424.72 479.00L432.58 479.00" stroke="#161616" stroke-width="1.12" fill="none"/>
<rect x="421.10" y="479.70" width="15.10" height="14.80" fill="#999" stroke="#161616" stroke-width="1.12"/>
<path d="M448.35 460.50L448.35 464.10" stroke="#161616" stroke-width="1.12" fill="none"/>
<path d="M444.42 460.50L452.28 460.50" stroke="#161616" stroke-width="1.12" fill="none"/>
<rect x="440.80" y="464.10" width="15.10" height="30.40" fill="#444" stroke="#161616" stroke-width="1.12"/>
<path d="M467.80 481.10L467.80 484.70" stroke="#161616" stroke-width="1.12" fill="none"/>
<path d="M463.90 481.10L471.70 481.10" stroke="#161616" stroke-width="1.12" fill="none"/>
<rect x="460.30" y="484.70" width="15.00" height="9.80" fill="#fff" stroke="#161616" stroke-width="1.12"/>
<path d="M488.05 458.60L488.05 464.70" stroke="#161616" stroke-width="1.12" fill="none"/>
<path d="M484.12 458.60L491.98 458.60" stroke="#161616" stroke-width="1.12" fill="none"/>
<rect x="480.50" y="464.70" width="15.10" height="29.80" fill="#999" stroke="#161616" stroke-width="1.12"/>
<path d="M508.20 432.60L508.20 449.00" stroke="#161616" stroke-width="1.12" fill="none"/>
<path d="M504.20 432.60L512.20 432.60" stroke="#161616" stroke-width="1.12" fill="none"/>
<rect x="500.50" y="449.00" width="15.40" height="45.50" fill="#444" stroke="#161616" stroke-width="1.12"/>
<path d="M328.50 411.90L328.50 395.50L348.90 395.50L348.90 397.50" stroke="#161616" stroke-width="1.12" fill="none"/>
<text x="338.90" y="395.85" font-size="8.7" text-anchor="middle" font-weight="normal" font-style="normal" fill="#000" class="st">***</text>
<path d="M368.40 438.80L368.40 423.40L388.50 423.40L388.50 425.50" stroke="#161616" stroke-width="1.12" fill="none"/>
<text x="378.65" y="423.55" font-size="8.7" text-anchor="middle" font-weight="normal" font-style="normal" fill="#000" class="st">***</text>
<path d="M388.50 410.30L388.50 407.70L488.20 407.70L488.20 410.70" stroke="#161616" stroke-width="1.12" fill="none"/>
<text x="438.55" y="407.85" font-size="8.7" text-anchor="middle" font-weight="normal" font-style="normal" fill="#000" class="st">***</text>
<path d="M388.50 419.40L388.50 416.90L428.40 416.90L428.40 437.70" stroke="#161616" stroke-width="1.12" fill="none"/>
<text x="408.65" y="417.25" font-size="8.7" text-anchor="middle" font-weight="normal" font-style="normal" fill="#000" class="st">***</text>
<path d="M408.50 463.10L408.50 456.60L448.50 456.60L448.50 459.20" stroke="#161616" stroke-width="1.12" fill="none"/>
<text x="428.70" y="456.25" font-size="8.7" text-anchor="middle" font-weight="normal" font-style="normal" fill="#000" class="st">*</text>
<path d="M408.50 477.60L408.50 475.10L428.80 475.10L428.80 477.60" stroke="#161616" stroke-width="1.12" fill="none"/>
<text x="418.65" y="472.30" font-size="10" text-anchor="middle" font-weight="normal" font-style="normal" fill="#000">ns</text>
<path d="M467.90 437.80L467.90 428.80L508.70 428.80L508.70 430.80" stroke="#161616" stroke-width="1.12" fill="none"/>
<text x="488.50" y="428.95" font-size="8.7" text-anchor="middle" font-weight="normal" font-style="normal" fill="#000" class="st">***</text>
<path d="M467.90 468.30L467.90 456.00L488.20 456.00L488.20 458.20" stroke="#161616" stroke-width="1.12" fill="none"/>
<text x="478.25" y="455.65" font-size="8.7" text-anchor="middle" font-weight="normal" font-style="normal" fill="#000" class="st">*</text>
<text x="279.80" y="442.30" font-size="9.1" text-anchor="middle" font-weight="normal" font-style="italic" fill="#000" transform="rotate(-90 279.80 442.30)">R.F.U./Cells × 10<tspan font-size="6" dy="-3">4</tspan></text>
<text x="332.20" y="504.30" font-size="9.85" text-anchor="end" font-weight="normal" font-style="normal" fill="#000" transform="rotate(-44.5 332.20 504.30)"><tspan font-weight="bold">VCaP</tspan> untreated</text>
<text x="352.00" y="504.30" font-size="9.85" text-anchor="end" font-weight="normal" font-style="normal" fill="#000" transform="rotate(-44.5 352.00 504.30)"><tspan font-weight="bold">VCaP</tspan> FeAC 200 µmol/L</text>
<text x="372.20" y="504.30" font-size="9.85" text-anchor="end" font-weight="normal" font-style="normal" fill="#000" transform="rotate(-44.5 372.20 504.30)"><tspan font-weight="bold">LNCaP</tspan> untreated</text>
<text x="391.90" y="504.30" font-size="9.85" text-anchor="end" font-weight="normal" font-style="normal" fill="#000" transform="rotate(-44.5 391.90 504.30)"><tspan font-weight="bold">LNCaP</tspan> FeAC 200 µmol/L</text>
<text x="412.35" y="504.30" font-size="9.85" text-anchor="end" font-weight="normal" font-style="normal" fill="#000" transform="rotate(-44.5 412.35 504.30)"><tspan font-weight="bold">DU-145</tspan> untreated</text>
<text x="432.35" y="504.30" font-size="9.85" text-anchor="end" font-weight="normal" font-style="normal" fill="#000" transform="rotate(-44.5 432.35 504.30)"><tspan font-weight="bold">DU-145</tspan> FeAC 200 µmol/L</text>
<text x="452.05" y="504.30" font-size="9.85" text-anchor="end" font-weight="normal" font-style="normal" fill="#000" transform="rotate(-44.5 452.05 504.30)"><tspan font-weight="bold">DU-145</tspan> FeAC 600 µmol/L</text>
<text x="471.50" y="504.30" font-size="9.85" text-anchor="end" font-weight="normal" font-style="normal" fill="#000" transform="rotate(-44.5 471.50 504.30)"><tspan font-weight="bold">PC-3</tspan> untreated</text>
<text x="491.75" y="504.30" font-size="9.85" text-anchor="end" font-weight="normal" font-style="normal" fill="#000" transform="rotate(-44.5 491.75 504.30)"><tspan font-weight="bold">PC-3</tspan> FeAC 200 µmol/L</text>
<text x="511.90" y="504.30" font-size="9.85" text-anchor="end" font-weight="normal" font-style="normal" fill="#000" transform="rotate(-44.5 511.90 504.30)"><tspan font-weight="bold">PC-3</tspan> FeAC 600 µmol/L</text>
<path d="M46.80 131.10L148.00 131.10" stroke="#161616" stroke-width="1.12" fill="none"/>
<path d="M59.50 131.10L59.50 134.60" stroke="#161616" stroke-width="1.12" fill="none"/>
<path d="M85.30 131.10L85.30 134.60" stroke="#161616" stroke-width="1.12" fill="none"/>
<path d="M110.90 131.10L110.90 134.60" stroke="#161616" stroke-width="1.12" fill="none"/>
<path d="M136.80 131.10L136.80 134.60" stroke="#161616" stroke-width="1.12" fill="none"/>
<path d="M214.00 131.00L318.00 131.00" stroke="#161616" stroke-width="1.12" fill="none"/>
<path d="M226.80 131.00L226.80 134.50" stroke="#161616" stroke-width="1.12" fill="none"/>
<path d="M252.80 131.00L252.80 134.50" stroke="#161616" stroke-width="1.12" fill="none"/>
<path d="M278.80 131.00L278.80 134.50" stroke="#161616" stroke-width="1.12" fill="none"/>
<path d="M304.50 131.00L304.50 134.50" stroke="#161616" stroke-width="1.12" fill="none"/>
<path d="M407.50 131.20L510.50 131.20" stroke="#161616" stroke-width="1.12" fill="none"/>
<path d="M421.00 131.20L421.00 134.70" stroke="#161616" stroke-width="1.12" fill="none"/>
<path d="M447.30 131.20L447.30 134.70" stroke="#161616" stroke-width="1.12" fill="none"/>
<path d="M473.00 131.20L473.00 134.70" stroke="#161616" stroke-width="1.12" fill="none"/>
<path d="M499.00 131.20L499.00 134.70" stroke="#161616" stroke-width="1.12" fill="none"/>
<path d="M47.00 307.00L98.50 307.00" stroke="#161616" stroke-width="1.12" fill="none"/>
<path d="M60.50 307.00L60.50 310.50" stroke="#161616" stroke-width="1.12" fill="none"/>
<path d="M86.30 307.00L86.30 310.50" stroke="#161616" stroke-width="1.12" fill="none"/>
<path d="M138.20 307.20L240.00 307.20" stroke="#161616" stroke-width="1.12" fill="none"/>
<path d="M150.90 307.20L150.90 310.70" stroke="#161616" stroke-width="1.12" fill="none"/>
<path d="M176.90 307.20L176.90 310.70" stroke="#161616" stroke-width="1.12" fill="none"/>
<path d="M202.50 307.20L202.50 310.70" stroke="#161616" stroke-width="1.12" fill="none"/>
<path d="M228.40 307.20L228.40 310.70" stroke="#161616" stroke-width="1.12" fill="none"/>
<path d="M318.80 307.50L372.80 307.50" stroke="#161616" stroke-width="1.12" fill="none"/>
<path d="M333.50 307.50L333.50 311.00" stroke="#161616" stroke-width="1.12" fill="none"/>
<path d="M360.60 307.50L360.60 311.00" stroke="#161616" stroke-width="1.12" fill="none"/>
<path d="M408.30 306.80L510.30 306.80" stroke="#161616" stroke-width="1.12" fill="none"/>
<path d="M421.50 306.80L421.50 310.30" stroke="#161616" stroke-width="1.12" fill="none"/>
<path d="M447.20 306.80L447.20 310.30" stroke="#161616" stroke-width="1.12" fill="none"/>
<path d="M473.00 306.80L473.00 310.30" stroke="#161616" stroke-width="1.12" fill="none"/>
<path d="M498.70 306.80L498.70 310.30" stroke="#161616" stroke-width="1.12" fill="none"/>
<path d="M46.60 494.50L246.00 494.50" stroke="#161616" stroke-width="1.12" fill="none"/>
<path d="M57.15 494.50L57.15 498.00" stroke="#161616" stroke-width="1.12" fill="none"/>
<path d="M77.65 494.50L77.65 498.00" stroke="#161616" stroke-width="1.12" fill="none"/>
<path d="M97.40 494.50L97.40 498.00" stroke="#161616" stroke-width="1.12" fill="none"/>
<path d="M117.15 494.50L117.15 498.00" stroke="#161616" stroke-width="1.12" fill="none"/>
<path d="M136.85 494.50L136.85 498.00" stroke="#161616" stroke-width="1.12" fill="none"/>
<path d="M156.85 494.50L156.85 498.00" stroke="#161616" stroke-width="1.12" fill="none"/>
<path d="M176.30 494.50L176.30 498.00" stroke="#161616" stroke-width="1.12" fill="none"/>
<path d="M196.05 494.50L196.05 498.00" stroke="#161616" stroke-width="1.12" fill="none"/>
<path d="M215.75 494.50L215.75 498.00" stroke="#161616" stroke-width="1.12" fill="none"/>
<path d="M235.45 494.50L235.45 498.00" stroke="#161616" stroke-width="1.12" fill="none"/>
<path d="M318.10 494.50L520.00 494.50" stroke="#161616" stroke-width="1.12" fill="none"/>
<path d="M328.50 494.50L328.50 498.00" stroke="#161616" stroke-width="1.12" fill="none"/>
<path d="M348.30 494.50L348.30 498.00" stroke="#161616" stroke-width="1.12" fill="none"/>
<path d="M368.50 494.50L368.50 498.00" stroke="#161616" stroke-width="1.12" fill="none"/>
<path d="M388.20 494.50L388.20 498.00" stroke="#161616" stroke-width="1.12" fill="none"/>
<path d="M408.65 494.50L408.65 498.00" stroke="#161616" stroke-width="1.12" fill="none"/>
<path d="M428.65 494.50L428.65 498.00" stroke="#161616" stroke-width="1.12" fill="none"/>
<path d="M448.35 494.50L448.35 498.00" stroke="#161616" stroke-width="1.12" fill="none"/>
<path d="M467.80 494.50L467.80 498.00" stroke="#161616" stroke-width="1.12" fill="none"/>
<path d="M488.05 494.50L488.05 498.00" stroke="#161616" stroke-width="1.12" fill="none"/>
<path d="M508.20 494.50L508.20 498.00" stroke="#161616" stroke-width="1.12" fill="none"/>
</svg>
</body></html>
